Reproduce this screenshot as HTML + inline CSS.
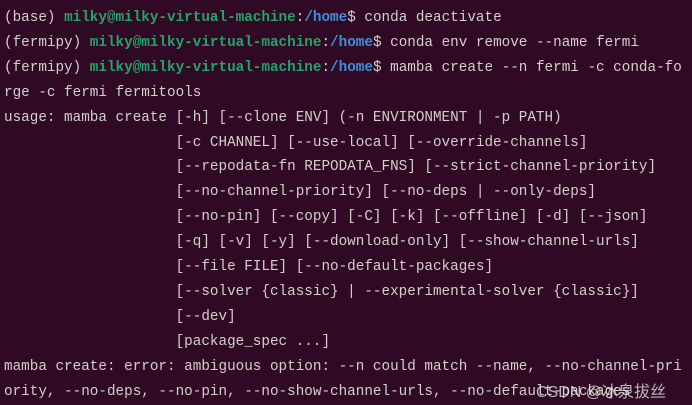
<!DOCTYPE html>
<html><head><meta charset="utf-8"><style>
html,body{margin:0;padding:0;background:#300a24;width:692px;height:405px;overflow:hidden}
pre{margin:0;position:absolute;left:4px;top:6px;font-family:"Liberation Mono",monospace;font-size:14.3px;line-height:24.9px;color:#d3d0cc;white-space:pre}
.g{color:#26a269;font-weight:bold}.b{color:#3f8fd8;font-weight:bold}
.wm{position:absolute;left:536px;top:378px;font-family:"Liberation Sans","Noto Sans CJK SC",sans-serif;font-size:16px;color:rgba(235,235,235,0.75)}
</style></head><body>
<pre>(base) <span class="g">milky@milky-virtual-machine</span>:<span class="b">/home</span>$ conda deactivate
(fermipy) <span class="g">milky@milky-virtual-machine</span>:<span class="b">/home</span>$ conda env remove --name fermi
(fermipy) <span class="g">milky@milky-virtual-machine</span>:<span class="b">/home</span>$ mamba create --n fermi -c conda-fo
rge -c fermi fermitools
usage: mamba create [-h] [--clone ENV] (-n ENVIRONMENT | -p PATH)
                    [-c CHANNEL] [--use-local] [--override-channels]
                    [--repodata-fn REPODATA_FNS] [--strict-channel-priority]
                    [--no-channel-priority] [--no-deps | --only-deps]
                    [--no-pin] [--copy] [-C] [-k] [--offline] [-d] [--json]
                    [-q] [-v] [-y] [--download-only] [--show-channel-urls]
                    [--file FILE] [--no-default-packages]
                    [--solver {classic} | --experimental-solver {classic}]
                    [--dev]
                    [package_spec ...]
mamba create: error: ambiguous option: --n could match --name, --no-channel-pri
ority, --no-deps, --no-pin, --no-show-channel-urls, --no-default-packages</pre>
<div class="wm">CSDN @冰泉拔丝</div>
</body></html>
